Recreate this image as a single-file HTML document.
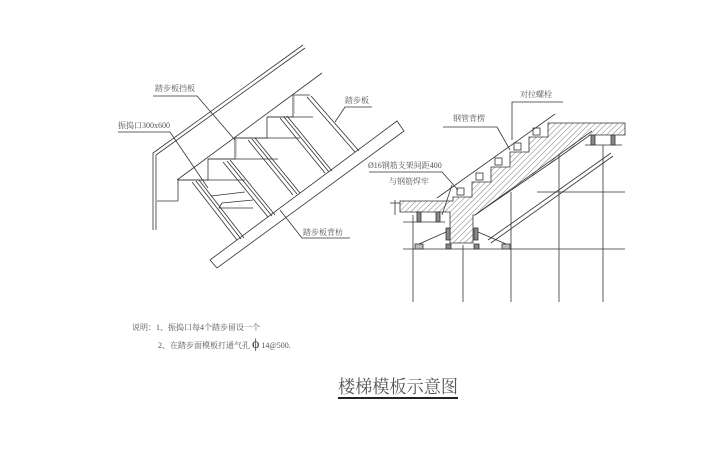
<!DOCTYPE html>
<html><head><meta charset="utf-8"><style>
html,body{margin:0;padding:0;background:#fff;}
svg{display:block}
text{font-family:"Liberation Serif","Noto Serif CJK SC","Noto Sans CJK SC",serif;fill:#555;}
</style></head><body>
<svg width="727" height="452" viewBox="0 0 727 452" xmlns="http://www.w3.org/2000/svg">
<defs>
<pattern id="h" width="4" height="4" patternUnits="userSpaceOnUse" patternTransform="rotate(45)">
<line x1="0" y1="0" x2="0" y2="4" stroke="#444" stroke-width="0.7"/>
</pattern>
</defs>
<rect width="727" height="452" fill="#fff"/>
<g stroke="#333" stroke-width="0.8" fill="none">
<!-- LEFT DRAWING -->
<polyline points="153,230 153,153 303,45"/>
<polyline points="156,230 156,155 305,48"/>
<line x1="177" y1="180" x2="322" y2="73"/>
<line x1="157" y1="201" x2="178" y2="201"/>
<!-- steps -->
<polyline points="178,201 178,180 208,180 208,159 235,159 235,138 267,138 267,117 293,117 293,95 310,95"/>
<line x1="178" y1="180" x2="245" y2="180"/>
<line x1="208" y1="159" x2="278" y2="159"/>
<line x1="235" y1="138" x2="300" y2="138"/>
<line x1="267" y1="117" x2="313" y2="117"/>
<rect x="234" y="139" width="2.5" height="18" fill="#aaa" stroke="none"/>
<rect x="292" y="96" width="2.5" height="18" fill="#aaa" stroke="none"/>
<!-- beams -->
<g>
<line x1="192" y1="182" x2="237" y2="240"/><line x1="196" y1="181" x2="241" y2="239"/><line x1="199" y1="180" x2="244" y2="238"/>
<line x1="223" y1="162" x2="268" y2="217"/><line x1="227" y1="161" x2="272" y2="216"/><line x1="230" y1="160" x2="275" y2="215"/>
<line x1="248" y1="140" x2="293" y2="195"/><line x1="252" y1="139" x2="297" y2="194"/><line x1="255" y1="138" x2="300" y2="193"/>
<line x1="280" y1="118" x2="325" y2="173"/><line x1="284" y1="117" x2="329" y2="172"/><line x1="287" y1="116" x2="332" y2="171"/>
<line x1="307" y1="97" x2="355" y2="152"/><line x1="311" y1="96" x2="359" y2="151"/>
</g>
<polyline points="211,196 245,192"/><polyline points="222,203 253,200"/><polyline points="222,203 219,208 253,208"/>
<!-- bottom board -->
<polygon points="210,260 217,268 404,131 397,121"/>
<!-- leaders left -->
<polyline points="153,96 197,96 235,140"/>
<polyline points="118,132 170,132 208,188"/>
<polyline points="372,107 345,107 335,122"/>
<polyline points="350,238 302,238 280,210"/>
<!-- RIGHT DRAWING -->
<line x1="403" y1="249" x2="625" y2="249"/>
<line x1="413" y1="215" x2="413" y2="302"/>
<line x1="463" y1="245" x2="463" y2="302"/>
<line x1="511" y1="192" x2="511" y2="302"/>
<line x1="559" y1="155" x2="559" y2="302"/>
<line x1="603" y1="145" x2="603" y2="302"/>
<line x1="537" y1="192" x2="625" y2="192"/>
<line x1="488" y1="240" x2="611" y2="153"/><line x1="491" y1="243" x2="613" y2="156"/>
<line x1="475" y1="215" x2="592" y2="131"/>
<line x1="437" y1="198" x2="555" y2="114"/>
<!-- concrete -->
<polygon fill="url(#h)" stroke="#333" points="400,201 453,201 453,197 472,197 472,182 491,182 491,167 510,167 510,152 529,152 529,137 548,137 548,123 625,123 625,135 590,135 558,158 475,215 473,215 473,243 450,243 450,212 400,212"/>
<line x1="403" y1="222" x2="445" y2="222"/>
<rect x="417" y="212" width="4" height="10" fill="#888"/>
<rect x="436" y="212" width="4" height="10" fill="#888"/>
<line x1="585" y1="145" x2="622" y2="145"/>
<rect x="591" y="135" width="4" height="10" fill="#888"/>
<rect x="611" y="135" width="4" height="10" fill="#888"/>
<rect x="446" y="228" width="4" height="12" fill="#888"/>
<rect x="474" y="228" width="4" height="12" fill="#888"/>
<rect x="446" y="244" width="5" height="5" fill="#888"/>
<rect x="474" y="244" width="5" height="5" fill="#888"/>
<rect x="415" y="244" width="8" height="5" fill="#bbb"/>
<rect x="502" y="244" width="8" height="5" fill="#bbb"/>
<line x1="446" y1="232" x2="419" y2="244"/>
<line x1="478" y1="232" x2="506" y2="244"/>
<line x1="395" y1="200" x2="395" y2="215"/>
<line x1="390" y1="203" x2="400" y2="203"/>
<!-- small step boxes -->
<rect x="457" y="188" width="7" height="7"/><rect x="476" y="173" width="7" height="7"/><rect x="495" y="158" width="7" height="7"/><rect x="514" y="143" width="7" height="7"/><rect x="533" y="128" width="7" height="7"/>
<line x1="452" y1="185" x2="442" y2="215"/>
<!-- leaders right -->
<polyline points="563,102 512,102 512,140"/>
<polyline points="443,127 497,127 510,150"/>
<polyline points="369,172 442,172 458,190"/>
<!-- title underline -->
<line x1="338" y1="398" x2="458" y2="398" stroke="#222" stroke-width="2"/>
</g>
<g font-size="8">
<text x="155" y="91">踏步板挡板</text>
<text x="118" y="128">振捣口300x600</text>
<text x="345" y="103">踏步板</text>
<text x="303" y="235">踏步板背枋</text>
<text x="520" y="97">对拉螺栓</text>
<text x="453" y="121">钢管背楞</text>
<text x="368" y="168">Ø16钢筋支架间距400</text>
<text x="389" y="184">与钢筋焊牢</text>
<text x="132" y="330">说明：1、振捣口每4个踏步留设一个</text>
<text x="158" y="348">2、在踏步面模板打通气孔 <tspan font-size="14" fill="#333">ϕ</tspan> 14@500.</text>
</g>
<text x="338" y="393" font-size="18" fill="#333" textLength="120" lengthAdjust="spacingAndGlyphs">楼梯模板示意图</text>
</svg>
</body></html>
